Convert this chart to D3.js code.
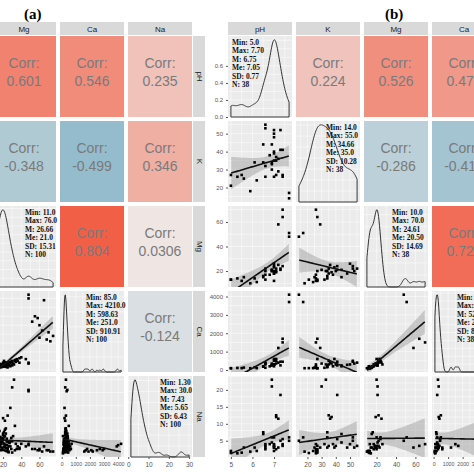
<!DOCTYPE html><html><head><meta charset="utf-8">
<script src="https://cdn.jsdelivr.net/npm/d3@7"></script>
<style>body{margin:0;background:#fff}</style></head><body>
<svg id="c" width="474" height="474"></svg>
<script>
// ---------- DATA ----------
const varsAll = ["pH","K","Mg","Ca","Na"];
// Panel (a): [Mg, Ca, Na]
const dataA = [[12,100,2],[13,120,3],[14,150,5],[15,90,8],[16,200,4],[17,180,6],[18,250,2.5],[19,220,3.5],[20,300,7],[21,260,5],[22,280,4],[23,320,9],[24,350,6],[25,400,3],[26,380,2],[27,300,5.5],[28,420,4],[29,450,3],[30,500,6],[31,350,8],[11,85,1.3],[12,110,2.2],[13,130,1.8],[14,160,2.6],[15,140,3.2],[16,170,4.4],[17,190,5.2],[18,210,6.4],[19,230,7.2],[20,240,8.4],[21,250,9.6],[22,270,10.5],[23,290,11],[24,310,2.1],[25,330,3.3],[26,360,4.1],[27,390,5.3],[28,410,6.1],[29,430,7.3],[30,460,1.6],[12,150,4.8],[13,180,5.6],[14,200,6.8],[15,220,1.9],[16,240,2.9],[17,260,3.9],[18,280,4.9],[19,300,5.9],[20,320,6.9],[21,340,7.9],[22,200,2.4],[23,180,3.4],[24,160,4.6],[25,140,5.8],[26,260,1.7],[20,190,2.7],[21,210,3.7],[22,230,4.7],[19,170,5.7],[18,150,6.7],[35,600,3],[33,550,2.5],[36,500,4],[34,450,5],[38,400,3.5],[20,400,9],[22,420,8],[24,380,7],[16,330,10],[14,280,11],[13,250,9.5],[15,260,8.8],[17,300,7.7],[18,320,6.6],[21,500,5],
[48,4210,5],[48,4000,4.5],[65,3900,4],[55,3000,3],[58,2900,2.5],[52,2700,3],[60,2500,2.5],[63,2200,2],[70,2100,2.5],[75,1900,2],[60,1800,3],[68,1700,2.5],[72,1600,2],[40,700,5],[45,600,4],[38,650,3],
[32,300,30],[30,250,27],[48,400,26],[48,350,25.5],[33,500,12],[28,200,19],[25,300,16],[20,200,15],[22,250,14]];
// Panel (b): [pH, K, Mg, Ca, Na]
const dataB = [[6.6,55,22,400,3.5],[6.6,53,20,350,3.0],[7.0,52,24,500,6.0],[7.3,52,22,450,5.0],[7.0,50,26,300,4.0],[7.0,48,18,280,3.0],[6.5,44,15,200,7.0],[6.9,44,21,250,4.5],[7.0,40,20,300,3.5],[7.4,41,24,450,5.5],[7.3,41,21,250,18.5],[6.8,38,17,200,4.0],[7.0,39,23,600,3.0],[7.1,37,19,350,12.0],[7.2,36,25,400,11.5],[7.1,35,22,500,12.5],[7.0,35,18,300,3.5],[6.9,34,20,250,6.0],[6.5,34,16,180,7.5],[6.1,34,14,150,3.0],[6.9,33,20,300,23.0],[6.6,32,13,120,4.0],[6.9,30,21,350,21.0],[7.2,29,58,1200,3.0],[7.1,27,20,600,2.5],[7.4,27,64,1700,3.5],[7.4,26,70,1500,4.0],[7.0,26,12,200,2.0],[6.6,26,17,300,2.5],[5.5,27,12,100,1.5],[5.3,26,14,110,1.3],[5.0,27,13,90,2.0],[5.6,25,15,130,3.0],[6.2,24,11,100,2.0],[5.9,18,10,95,1.8],[5.0,21,13,100,1.4],[7.7,17,51,3700,6.0],[7.7,14,48,4100,5.0]];
const corrA = {"pH|Mg":"0.601","pH|Ca":"0.546","pH|Na":"0.235","K|Mg":"-0.348","K|Ca":"-0.499","K|Na":"0.346","Mg|Ca":"0.804","Mg|Na":"0.0306","Ca|Na":"-0.124","pH|K":"0.2"};
const corrB = {"pH|K":"0.224","pH|Mg":"0.526","pH|Ca":"0.474","pH|Na":"0.310","K|Mg":"-0.286","K|Ca":"-0.412","K|Na":"0.120","Mg|Ca":"0.725","Mg|Na":"-0.050","Ca|Na":"-0.030"};
const statsA = {Mg:["Min: 11.0","Max: 76.0","M: 26.66","Me: 21.0","SD: 15.31","N: 100"],
  Ca:["Min: 85.0","Max: 4210.0","M: 598.63","Me: 251.0","SD: 910.91","N: 100"],
  Na:["Min: 1.30","Max: 30.0","M: 7.43","Me: 5.65","SD: 6.43","N: 100"]};
const statsB = {pH:["Min: 5.0","Max: 7.70","M: 6.75","Me: 7.05","SD: 0.77","N: 38"],
  K:["Min: 14.0","Max: 55.0","M: 34.66","Me: 35.0","SD: 10.28","N: 38"],
  Mg:["Min: 10.0","Max: 70.0","M: 24.61","Me: 20.50","SD: 14.69","N: 38"],
  Ca:["Min: 90.0","Max: 4100.0","M: 525.13","Me: 275.0","SD: 857.2","N: 38"],
  Na:["Min: 1.30","Max: 23.0","M: 6.02","Me: 4.0","SD: 5.4","N: 38"]};
const ticksA = {Mg:[20,40,60],Ca:[0,1000,2000,3000,4000],Na:[0,10,20,30]};
const ticksB = {pH:[5,6,7],K:[20,30,40,50],Mg:[20,40,60],Ca:[0,1000,2000,3000,4000],Na:[5,10,15,20]};
const densTicks = [0,0.2,0.4,0.6];

// ---------- LAYOUT ----------
const svg = d3.select("#c");
const CW=64, CH=81, SX=68, SY=85, Y0=36;
const corrColor = d3.scaleLinear().domain([-1,0,1]).range(["#3a8cae","#efebe9","#f23d20"]);
const statX = {a:{Mg:33,Ca:26,Na:32}, b:{pH:4,K:30,Mg:28,Ca:25,Na:28}};

function kde(vals){
  const n=vals.length, sd=d3.deviation(vals);
  const s=vals.slice().sort(d3.ascending);
  const iqr=d3.quantile(s,0.75)-d3.quantile(s,0.25);
  const bw=0.9*Math.min(sd, iqr/1.34||sd)*Math.pow(n,-0.2);
  const pts=[]; const mn=d3.min(vals), mx=d3.max(vals);
  for(let k=0;k<=120;k++){const x=mn+(mx-mn)*k/120;
    let d=0; for(const v of vals){const u=(x-v)/bw; d+=Math.exp(-0.5*u*u);}
    pts.push([x,d/(n*bw*Math.sqrt(2*Math.PI))]);}
  return pts;
}
function lm(xs, ys){
  const n=xs.length, mx=d3.mean(xs), my=d3.mean(ys);
  let sxx=0,sxy=0; xs.forEach((x,i)=>{sxx+=(x-mx)**2; sxy+=(x-mx)*(ys[i]-my);});
  const b=sxy/sxx, a=my-b*mx;
  let sse=0; xs.forEach((x,i)=>{sse+=(ys[i]-a-b*x)**2;});
  const se=Math.sqrt(sse/(n-2));
  return {a,b,band:x=>2.0*se*Math.sqrt(1/n+(x-mx)**2/sxx)};
}

function panel(key, x0, cols, data, corr, stats, ticks){
  const g = svg.append("g");
  const n = varsAll.length;
  const col = v => data.map(r=>r[cols.indexOf(v)]);
  const dom = v => {const e=d3.extent(col(v)); const p=(e[1]-e[0])*0.05; return [e[0]-p,e[1]+p];};
  for(let i=0;i<n;i++) for(let j=0;j<n;j++){
    const cx=x0+j*SX, cy=Y0+i*SY;
    if(cx>474||cx+CW<-10) continue;
    const vy=varsAll[i], vx=varsAll[j];
    const cg=g.append("g");
    if(j>i){
      const txt=corr[vy+"|"+vx];
      cg.append("rect").attr("x",cx).attr("y",cy).attr("width",CW).attr("height",CH).attr("fill",corrColor(+txt));
      cg.append("text").attr("x",cx+CW/2).attr("y",cy+CH*0.4).attr("text-anchor","middle").attr("font-family","Liberation Sans, Arial").attr("font-size",14).attr("fill","#7a7a7a").text("Corr:");
      cg.append("text").attr("x",cx+CW/2).attr("y",cy+CH*0.62).attr("text-anchor","middle").attr("font-family","Liberation Sans, Arial").attr("font-size",14).attr("fill","#7a7a7a").text(txt);
      continue;
    }
    if(cols.indexOf(vx)<0||cols.indexOf(vy)<0) continue;
    cg.append("rect").attr("x",cx).attr("y",cy).attr("width",CW).attr("height",CH).attr("fill","#ebebeb");
    const xs=d3.scaleLinear().domain(dom(vx)).range([cx,cx+CW]);
    let ys;
    if(i===j){
      const pts=kde(col(vx));
      ys=d3.scaleLinear().domain([0,d3.max(pts,p=>p[1])*1.05]).range([cy+CH,cy]);
    } else ys=d3.scaleLinear().domain(dom(vy)).range([cy+CH,cy]);
    const xt=xs.ticks(8), yt=ys.ticks(8);
    xt.forEach(t=>cg.append("line").attr("x1",xs(t)).attr("x2",xs(t)).attr("y1",cy).attr("y2",cy+CH).attr("stroke","#fff").attr("stroke-width",0.5));
    yt.forEach(t=>cg.append("line").attr("y1",ys(t)).attr("y2",ys(t)).attr("x1",cx).attr("x2",cx+CW).attr("stroke","#fff").attr("stroke-width",0.5));
    if(i===j){
      const pts=kde(col(vx));
      const line=d3.line().x(p=>xs(p[0])).y(p=>ys(p[1]));
      const closed=[[pts[0][0],0],...pts,[pts[pts.length-1][0],0]];
      cg.append("path").attr("d",line(closed)+"Z").attr("fill","none").attr("stroke","#333").attr("stroke-width",1);
      (stats[vx]||[]).forEach((s,k)=>cg.append("text").attr("x",cx+statX[key][vx]).attr("y",cy+9+k*8.4)
        .attr("font-family","Liberation Serif, Times New Roman").attr("font-weight","bold").attr("font-size",7.5).attr("fill","#111").text(s));
    } else {
      const X=col(vx), Y=col(vy), f=lm(X,Y);
      const d0=xs.domain(), xx=d3.range(41).map(k=>d0[0]+(d0[1]-d0[0])*k/40).filter(x=>x>=d3.min(X)&&x<=d3.max(X));
      const clip="cl"+key+i+j;
      cg.append("clipPath").attr("id",clip).append("rect").attr("x",cx).attr("y",cy).attr("width",CW).attr("height",CH);
      const inner=cg.append("g").attr("clip-path",`url(#${clip})`);
      inner.append("path").attr("d",d3.area().x(x=>xs(x)).y0(x=>ys(f.a+f.b*x-f.band(x))).y1(x=>ys(f.a+f.b*x+f.band(x)))(xx)).attr("fill","#999").attr("opacity",0.45);
      inner.selectAll(null).data(X).join("rect").attr("x",d=>xs(d)-1.3).attr("y",(d,k)=>ys(Y[k])-1.3).attr("width",2.6).attr("height",2.6).attr("fill","#000");
      inner.append("path").attr("d",d3.line().x(x=>xs(x)).y(x=>ys(f.a+f.b*x))(xx)).attr("stroke","#111").attr("stroke-width",1.6).attr("fill","none");
    }
    if(i===n-1 && ticks[vx]){
      const ax=d3.axisBottom(xs).tickValues(ticks[vx]).tickSize(2).tickFormat(d3.format("d"));
      const a=g.append("g").attr("transform",`translate(0,${cy+CH})`).call(ax);
      a.select(".domain").remove(); a.selectAll("text").attr("font-size",vx==="Ca"?5.2:6.5).attr("fill","#555").attr("font-family","Liberation Sans, Arial"); a.selectAll("line").attr("stroke","#555");
    }
    if(j===0){
      const tv = i===0 ? densTicks : ticks[vy];
      const ax=d3.axisLeft(ys).tickValues(tv).tickSize(2).tickFormat(i===0?d3.format(".1f"):d3.format("d"));
      const a=g.append("g").attr("transform",`translate(${cx},0)`).call(ax);
      a.select(".domain").remove(); a.selectAll("text").attr("font-size",6).attr("fill","#555").attr("font-family","Liberation Sans, Arial"); a.selectAll("line").attr("stroke","#555");
    }
  }
  varsAll.forEach((v,j)=>{
    const cx=x0+j*SX;
    g.append("rect").attr("x",cx).attr("y",Y0-14).attr("width",CW).attr("height",13).attr("fill","#d9d9d9");
    g.append("text").attr("x",cx+CW/2).attr("y",Y0-4.5).attr("text-anchor","middle").attr("font-family","Liberation Sans, Arial").attr("font-size",8).attr("fill","#222").text(v);
  });
  const rx=x0+(n-1)*SX+CW+1;
  varsAll.forEach((v,i)=>{
    const cy=Y0+i*SY;
    g.append("rect").attr("x",rx).attr("y",cy).attr("width",12).attr("height",CH).attr("fill","#d9d9d9");
    g.append("text").attr("transform",`translate(${rx+3.5},${cy+CH/2}) rotate(90)`).attr("text-anchor","middle").attr("font-family","Liberation Sans, Arial").attr("font-size",8).attr("fill","#222").text(v);
  });
}
panel("a", -144, ["Mg","Ca","Na"], dataA, corrA, statsA, ticksA);
panel("b", 228, ["pH","K","Mg","Ca","Na"], dataB, corrB, statsB, ticksB);
svg.append("text").attr("x",24).attr("y",19).attr("font-family","Liberation Serif, Times New Roman").attr("font-weight","bold").attr("font-size",15).text("(a)");
svg.append("text").attr("x",385).attr("y",19).attr("font-family","Liberation Serif, Times New Roman").attr("font-weight","bold").attr("font-size",15).text("(b)");
</script></body></html>
